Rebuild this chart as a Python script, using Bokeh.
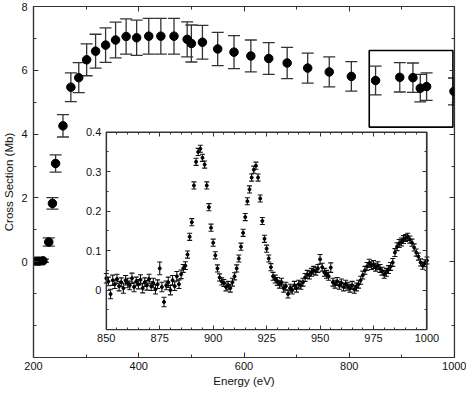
from bokeh.plotting import figure
from bokeh.models import (Range1d, LinearAxis, FixedTicker, CustomJSTickFormatter,
                          Whisker, TeeHead, ColumnDataSource)
from bokeh.embed import file_html
from bokeh.resources import INLINE

# ---------------- main data ----------------
main_energy = [205, 211, 218, 229, 236, 242, 256, 271, 286, 301, 318, 337, 356, 376,
               396, 419, 442, 467, 492, 500, 521, 550, 581, 613, 647, 682, 721, 762,
               804, 850, 896, 921, 935, 947, 999]
main_xs = [0.02, 0.02, 0.03, 0.62, 1.83, 3.08, 4.26, 5.47, 5.77, 6.33, 6.60, 6.79, 6.95,
           7.06, 7.02, 7.07, 7.07, 7.07, 6.97, 6.84, 6.88, 6.67, 6.57, 6.45, 6.37, 6.23,
           6.07, 5.95, 5.81, 5.68, 5.78, 5.77, 5.44, 5.49, 5.34]
main_err = [0.05, 0.05, 0.05, 0.13, 0.18, 0.27, 0.35, 0.45, 0.47, 0.50, 0.53, 0.54, 0.56,
            0.55, 0.55, 0.56, 0.56, 0.56, 0.55, 0.58, 0.53, 0.52, 0.52, 0.50, 0.50, 0.49,
            0.47, 0.47, 0.46, 0.45, 0.46, 0.46, 0.43, 0.43, 0.42]

main_x_ticks = [200, 400, 600, 800, 1000]
main_x_minor = [300, 500, 700, 900]
main_y_ticks = [0, 2, 4, 6, 8]
main_y_minor = [-3, -2, -1, 1, 3, 5, 7]

zoom_box_x = [838, 997]
zoom_box_y = [4.22, 6.62]

# ---------------- inset data ----------------
inset_energy = [850, 851, 852, 853, 854, 855, 856, 857, 858, 859,
                860, 861, 862, 863, 864, 865, 866, 867, 868, 869,
                870, 871, 872, 873, 874, 875, 876, 877, 878, 879,
                880, 881, 882, 883, 884, 885, 886, 887, 888, 889,
                890, 891, 892, 893, 894, 895, 896, 897, 898, 899,
                900, 901, 902, 903, 904, 905, 906, 907, 908, 909,
                910, 911, 912, 913, 914, 915, 916, 917, 918, 919,
                920, 921, 922, 923, 924, 925, 926, 927, 928, 929,
                930, 931, 932, 933, 934, 935, 936, 937, 938, 939,
                940, 941, 942, 943, 944, 945, 946, 947, 948, 949,
                950, 951, 952, 953, 954, 955, 956, 957, 958, 959,
                960, 961, 962, 963, 964, 965, 966, 967, 968, 969,
                970, 971, 972, 973, 974, 975, 976, 977, 978, 979,
                980, 981, 982, 983, 984, 985, 986, 987, 988, 989,
                990, 991, 992, 993, 994, 995, 996, 997, 998, 999,
                1000]
inset_xs = [0.030, 0.022, -0.010, 0.025, 0.015, 0.028, 0.010, 0.020, 0.005, 0.025,
            0.018, 0.012, 0.030, 0.008, 0.022, 0.015, 0.026, 0.005, 0.020, 0.012,
            0.028, 0.010, 0.018, 0.002, 0.015, 0.055, 0.008, -0.030, 0.012, 0.020,
            0.000, 0.025, 0.010, 0.035, 0.015, 0.040, 0.055, 0.062, 0.090, 0.135,
            0.172, 0.265, 0.325, 0.350, 0.358, 0.335, 0.318, 0.265, 0.210, 0.158,
            0.120, 0.088, 0.055, 0.032, 0.022, 0.018, 0.008, 0.012, 0.005, 0.020,
            0.035, 0.055, 0.080, 0.110, 0.145, 0.185, 0.225, 0.255, 0.285, 0.305,
            0.315, 0.285, 0.232, 0.175, 0.130, 0.105, 0.080, 0.058, 0.035, 0.028,
            0.022, 0.015, 0.020, 0.005, 0.010, -0.010, 0.005, 0.000, 0.012, 0.005,
            0.015, 0.012, 0.020, 0.032, 0.040, 0.038, 0.045, 0.050, 0.048, 0.055,
            0.078, 0.058, 0.045, 0.040, 0.035, 0.057, 0.020, 0.015, 0.022, 0.012,
            0.018, 0.008, 0.015, 0.010, 0.005, 0.012, 0.002, 0.008, 0.015, 0.025,
            0.038, 0.050, 0.060, 0.068, 0.062, 0.065, 0.058, 0.062, 0.055, 0.048,
            0.040, 0.045, 0.052, 0.060, 0.070, 0.095, 0.110, 0.118, 0.122, 0.128,
            0.132, 0.135, 0.128, 0.120, 0.108, 0.095, 0.085, 0.070, 0.062, 0.068,
            0.075]
inset_err = [0.012, 0.011, 0.012, 0.013, 0.011, 0.012, 0.012, 0.011, 0.013, 0.012,
             0.012, 0.011, 0.013, 0.012, 0.011, 0.012, 0.013, 0.012, 0.011, 0.012,
             0.012, 0.011, 0.012, 0.012, 0.011, 0.016, 0.012, 0.012, 0.011, 0.013,
             0.012, 0.012, 0.011, 0.012, 0.011, 0.011, 0.010, 0.010, 0.009, 0.009,
             0.009, 0.009, 0.009, 0.009, 0.009, 0.009, 0.009, 0.009, 0.009, 0.009,
             0.009, 0.009, 0.009, 0.009, 0.009, 0.009, 0.010, 0.010, 0.010, 0.010,
             0.009, 0.009, 0.009, 0.009, 0.009, 0.009, 0.009, 0.009, 0.009, 0.009,
             0.009, 0.009, 0.009, 0.009, 0.009, 0.009, 0.009, 0.009, 0.010, 0.010,
             0.010, 0.010, 0.010, 0.010, 0.010, 0.010, 0.010, 0.010, 0.010, 0.010,
             0.010, 0.010, 0.010, 0.010, 0.010, 0.010, 0.010, 0.010, 0.010, 0.010,
             0.012, 0.010, 0.010, 0.010, 0.010, 0.012, 0.010, 0.010, 0.010, 0.010,
             0.010, 0.010, 0.010, 0.010, 0.010, 0.010, 0.010, 0.010, 0.010, 0.010,
             0.010, 0.010, 0.010, 0.010, 0.010, 0.010, 0.010, 0.010, 0.010, 0.010,
             0.010, 0.010, 0.010, 0.010, 0.010, 0.010, 0.010, 0.010, 0.010, 0.010,
             0.009, 0.009, 0.009, 0.009, 0.009, 0.009, 0.009, 0.009, 0.009, 0.009,
             0.009]

inset_x_ticks = [850, 875, 900, 925, 950, 975, 1000]
inset_x_minor = [855, 860, 865, 870, 880, 885, 890, 895, 905, 910, 915, 920, 930, 935,
                 940, 945, 955, 960, 965, 970, 980, 985, 990, 995]
inset_y_ticks = [0, 0.1, 0.2, 0.3, 0.4]
inset_y_minor = [-0.1, -0.05, 0.05, 0.15, 0.25, 0.35]
inset_x_lim = (850, 1000)
inset_y_lim = (-0.1, 0.4)

# inset placement as fractions of the main frame (left, right, bottom, top)
inset_frac = (0.1729, 0.9346, 0.0795, 0.642)

FONT = "Liberation Sans"
AX = "#333333"
TXT = "#111111"

p = figure(width=466, height=389, x_range=Range1d(200, 1000), y_range=Range1d(-3, 8),
           output_backend="svg", toolbar_location=None,
           min_border_left=28, min_border_right=12, min_border_top=6, min_border_bottom=31)
p.grid.visible = False
p.outline_line_color = AX
p.outline_line_width = 1.2
p.background_fill_color = "white"
p.border_fill_color = "white"

empty_fmt = CustomJSTickFormatter(code="return ''")


def style_axis(ax, tick_in=5, minor_in=3):
    ax.major_tick_in = tick_in
    ax.major_tick_out = 0
    ax.minor_tick_in = minor_in
    ax.minor_tick_out = 0
    ax.axis_line_color = AX
    ax.axis_line_width = 1.2
    ax.major_tick_line_color = AX
    ax.minor_tick_line_color = AX
    ax.major_label_text_font = FONT
    ax.major_label_text_font_size = "11px"
    ax.major_label_text_color = TXT
    ax.axis_label_text_font = FONT
    ax.axis_label_text_font_size = "11.5px"
    ax.axis_label_text_font_style = "normal"
    ax.axis_label_text_color = TXT


xa = p.xaxis[0]
xa.ticker = FixedTicker(ticks=main_x_ticks, minor_ticks=main_x_minor)
xa.axis_label = "Energy (eV)"
style_axis(xa)
xa.major_label_standoff = 4
xa.axis_label_standoff = 2

ya = p.yaxis[0]
ya.ticker = FixedTicker(ticks=main_y_ticks, minor_ticks=main_y_minor)
ya.axis_label = "Cross Section (Mb)"
style_axis(ya)
ya.major_label_standoff = 6
ya.axis_label_standoff = 3

top_ax = LinearAxis(fixed_location=8, ticker=FixedTicker(ticks=main_x_ticks, minor_ticks=main_x_minor),
                    formatter=empty_fmt)
style_axis(top_ax)
p.add_layout(top_ax, "above")
right_ax = LinearAxis(fixed_location=1000, ticker=FixedTicker(ticks=main_y_ticks, minor_ticks=main_y_minor),
                      formatter=empty_fmt)
style_axis(right_ax)
p.add_layout(right_ax, "right")

# ---- main data ----
msrc = ColumnDataSource(dict(x=main_energy, y=main_xs,
                             lo=[v - e for v, e in zip(main_xs, main_err)],
                             hi=[v + e for v, e in zip(main_xs, main_err)]))
p.add_layout(Whisker(source=msrc, base="x", lower="lo", upper="hi",
                     line_color="#333333", line_width=1.3,
                     upper_head=TeeHead(size=12, line_color="#333333", line_width=1.3),
                     lower_head=TeeHead(size=12, line_color="#333333", line_width=1.3)))
p.scatter("x", "y", source=msrc, size=8.5, marker="circle", fill_color="black", line_color="black")

p.quad(left=[zoom_box_x[0]], right=[zoom_box_x[1]], bottom=[zoom_box_y[0]], top=[zoom_box_y[1]],
       fill_color=None, line_color="black", line_width=1.6)

# ---- inset ranges ----
fx0, fx1, fy0, fy1 = inset_frac
span_x = (inset_x_lim[1] - inset_x_lim[0]) / (fx1 - fx0)
xs0 = inset_x_lim[0] - fx0 * span_x
span_y = (inset_y_lim[1] - inset_y_lim[0]) / (fy1 - fy0)
ys0 = inset_y_lim[0] - fy0 * span_y
p.extra_x_ranges = {"ix": Range1d(xs0, xs0 + span_x)}
p.extra_y_ranges = {"iy": Range1d(ys0, ys0 + span_y)}

p.quad(left=[inset_x_lim[0]], right=[inset_x_lim[1]], bottom=[inset_y_lim[0]], top=[inset_y_lim[1]],
       fill_color="white", line_color=AX, line_width=1.2, x_range_name="ix", y_range_name="iy")

ib = LinearAxis(x_range_name="ix", y_range_name="iy", fixed_location=inset_y_lim[0], bounds=inset_x_lim,
                ticker=FixedTicker(ticks=inset_x_ticks, minor_ticks=inset_x_minor))
style_axis(ib, 4, 2)
ib.major_label_standoff = 4
p.add_layout(ib, "below")
itop = LinearAxis(x_range_name="ix", y_range_name="iy", fixed_location=inset_y_lim[1], bounds=inset_x_lim,
                  ticker=FixedTicker(ticks=inset_x_ticks, minor_ticks=inset_x_minor), formatter=empty_fmt)
style_axis(itop, 4, 2)
p.add_layout(itop, "above")
il = LinearAxis(x_range_name="ix", y_range_name="iy", fixed_location=inset_x_lim[0], bounds=inset_y_lim,
                ticker=FixedTicker(ticks=inset_y_ticks, minor_ticks=inset_y_minor),
                formatter=CustomJSTickFormatter(code="return Math.abs(tick) < 1e-9 ? '0' : tick.toFixed(1)"))
style_axis(il, 4, 2)
il.major_label_standoff = 5
p.add_layout(il, "left")
ir = LinearAxis(x_range_name="ix", y_range_name="iy", fixed_location=inset_x_lim[1], bounds=inset_y_lim,
                ticker=FixedTicker(ticks=inset_y_ticks, minor_ticks=inset_y_minor), formatter=empty_fmt)
style_axis(ir, 4, 2)
p.add_layout(ir, "right")

isrc = ColumnDataSource(dict(x=inset_energy, y=inset_xs,
                             lo=[v - e for v, e in zip(inset_xs, inset_err)],
                             hi=[v + e for v, e in zip(inset_xs, inset_err)]))
p.segment(x0="x", y0="lo", x1="x", y1="hi", source=isrc, line_color="#111111", line_width=1.1,
          x_range_name="ix", y_range_name="iy")
p.scatter("x", "lo", source=isrc, marker="dash", size=5, line_color="#111111", line_width=1.1,
          x_range_name="ix", y_range_name="iy")
p.scatter("x", "hi", source=isrc, marker="dash", size=5, line_color="#111111", line_width=1.1,
          x_range_name="ix", y_range_name="iy")
p.scatter("x", "y", source=isrc, size=3, marker="circle", fill_color="black", line_color="black",
          x_range_name="ix", y_range_name="iy")

open("out.html", "w").write(file_html(p, INLINE))
